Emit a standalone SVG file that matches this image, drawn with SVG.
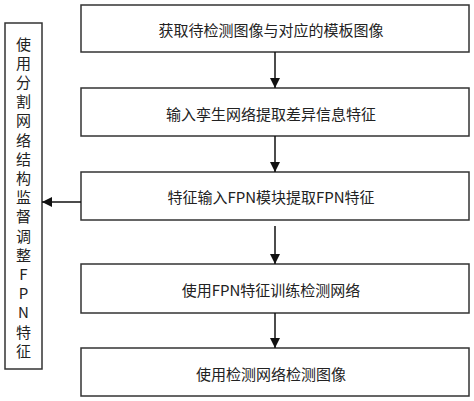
<svg xmlns="http://www.w3.org/2000/svg" width="474" height="401" viewBox="0 0 474 401">
<style>
.box{fill:#fff;stroke:#333;stroke-width:1.5}
.t{font-family:"Noto Sans CJK SC","Liberation Sans",sans-serif;font-size:15px;fill:#222;text-anchor:middle;dominant-baseline:central}
.c{stroke:#111;stroke-width:1.5;fill:none;marker-end:url(#ah)}
</style>
<defs>
<marker id="ah" viewBox="0 0 10 10" refX="10" refY="5" markerWidth="10" markerHeight="10" markerUnits="userSpaceOnUse" orient="auto">
<path d="M0,0 L10,5 L0,10 z" fill="#111"/>
</marker>
</defs>
<rect width="474" height="401" fill="#fff"/>
<g id="n1"><rect class="box" x="81" y="5" width="388" height="47"/><text class="t" x="271" y="29">获取待检测图像与对应的模板图像</text></g>
<g id="n2"><rect class="box" x="81" y="88" width="388" height="48"/><text class="t" x="271" y="113">输入孪生网络提取差异信息特征</text></g>
<g id="n3"><rect class="box" x="81" y="172" width="388" height="48"/><text class="t" x="271" y="196">特征输入FPN模块提取FPN特征</text></g>
<g id="n4"><rect class="box" x="81" y="264" width="388" height="49"/><text class="t" x="271" y="289">使用FPN特征训练检测网络</text></g>
<g id="n5"><rect class="box" x="81" y="348" width="388" height="48"/><text class="t" x="271" y="373">使用检测网络检测图像</text></g>
<g id="n6"><rect class="box" x="5" y="23" width="37" height="346"/>
<g class="t">
<text x="23.5" y="43">使</text><text x="23.5" y="62.2">用</text><text x="23.5" y="81.4">分</text><text x="23.5" y="100.6">割</text><text x="23.5" y="119.8">网</text><text x="23.5" y="139">络</text><text x="23.5" y="158.2">结</text><text x="23.5" y="177.4">构</text><text x="23.5" y="196.6">监</text><text x="23.5" y="215.8">督</text><text x="23.5" y="235">调</text><text x="23.5" y="254.2">整</text><text x="23.5" y="273.4">F</text><text x="23.5" y="292.6">P</text><text x="23.5" y="311.8">N</text><text x="23.5" y="331">特</text><text x="23.5" y="350.2">征</text>
</g>
</g>
<g id="connectors">
<line class="c" x1="275" y1="52" x2="275" y2="88"/>
<line class="c" x1="275" y1="136" x2="275" y2="172"/>
<line class="c" x1="275" y1="226" x2="275" y2="264"/>
<line class="c" x1="275" y1="313" x2="275" y2="348"/>
<line class="c" x1="81" y1="202" x2="42" y2="202"/>
</g>
</svg>
